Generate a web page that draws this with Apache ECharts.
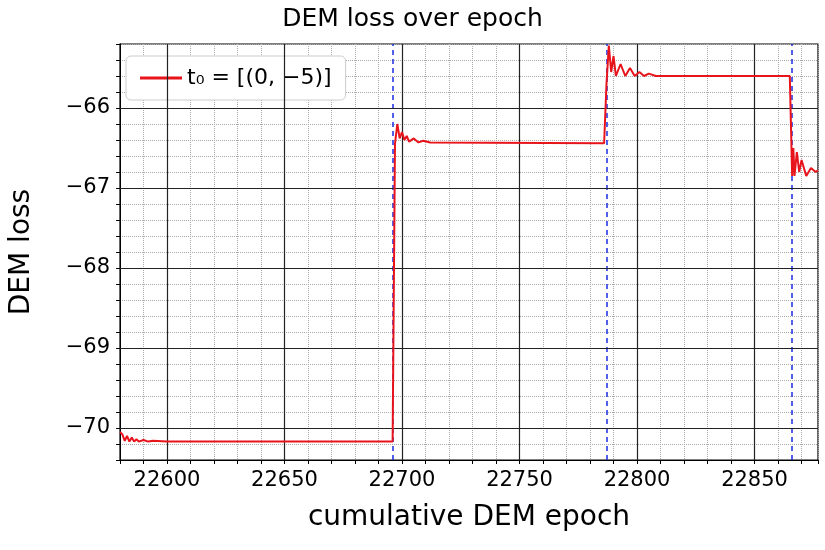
<!DOCTYPE html>
<html><head><meta charset="utf-8">
<script src="https://cdn.jsdelivr.net/npm/echarts@6/dist/echarts.min.js"></script>
<style>html,body{margin:0;background:#fff}#c{width:825px;height:550px}</style>
</head><body><div id="c"></div>
<script>
// loss curve
const epochs = [22580,22581,22582,22583,22584,22585,22586,22587,22588,22590,22592,22594,22600,22696,
  22697,22698,22699,22700,22701,22702,22703,22705,22707,22709,22712,22786,
  22787,22788,22789,22790,22791,22793,22795,22797,22799,22801,22803,22805,22808,22865,
  22866,22866.5,22867,22868,22869,22870,22872,22874,22876,22877]
const loss = [-70.05,-70.08,-70.16,-70.1,-70.17,-70.12,-70.17,-70.14,-70.17,-70.15,-70.17,-70.16,-70.17,-70.17,
  -66.45,-66.2,-66.38,-66.3,-66.4,-66.35,-66.42,-66.38,-66.43,-66.41,-66.43,-66.44,
  -65.7,-65.22,-65.55,-65.35,-65.6,-65.45,-65.6,-65.5,-65.6,-65.55,-65.6,-65.57,-65.6,-65.6,
  -66.85,-66.5,-66.85,-66.55,-66.8,-66.65,-66.85,-66.75,-66.8,-66.78]
const switchEpochs = [22696, 22787, 22866]
const xMajor = [22600, 22650, 22700, 22750, 22800, 22850]
const yMajor = [-70, -69, -68, -67, -66]

const font = 'DejaVu Sans'
const chart = echarts.init(document.getElementById('c'))
const solid = { symbol: 'none', label: { show: false }, lineStyle: { color: '#222', type: 'solid', width: 1.2 } }
chart.setOption({
  animation: false,
  title: { text: 'DEM loss over epoch', left: 'center', top: 2, textStyle: { fontFamily: font, fontSize: 25, fontWeight: 'normal', color: '#000' } },
  legend: {
    left: 126, top: 56, itemWidth: 42, itemHeight: 3, itemGap: 10, padding: [11, 14],
    icon: 'rect',
    backgroundColor: '#fff', borderColor: '#ccc', borderWidth: 1, borderRadius: 5,
    textStyle: { fontFamily: font, fontSize: 22, color: '#000' }
  },
  grid: { left: 113, right: 7, top: 44, bottom: 90, show: true, borderColor: '#000', borderWidth: 1.2 },
  xAxis: {
    type: 'value', min: 22580, max: 22877, interval: 10,
    name: 'cumulative DEM epoch', nameLocation: 'middle', nameGap: 44,
    nameTextStyle: { fontFamily: font, fontSize: 28, color: '#000' },
    axisLine: { lineStyle: { color: '#000' } },
    axisTick: { show: true, length: 4, lineStyle: { color: '#000' } },
    axisLabel: { fontFamily: font, fontSize: 21, color: '#000', margin: 10,
      formatter: v => (v % 50 === 0 ? String(v) : '') },
    splitLine: { show: true, lineStyle: { color: '#aaa', type: 'dotted' } }
  },
  yAxis: {
    type: 'value', min: -70.4, max: -65.2, interval: 0.2,
    name: 'DEM loss', nameLocation: 'middle', nameGap: 84,
    nameTextStyle: { fontFamily: font, fontSize: 28, color: '#000' },
    axisLine: { show: true, lineStyle: { color: '#000' } },
    axisTick: { show: true, length: 4, lineStyle: { color: '#000' } },
    axisLabel: { fontFamily: font, fontSize: 21, color: '#000', margin: 10,
      formatter: v => (Math.abs(v - Math.round(v)) < 1e-6 ? String(Math.round(v)).replace('-', '\u2212') : '') },
    splitLine: { show: true, lineStyle: { color: '#aaa', type: 'dotted' } }
  },
  series: [
    {
      name: 't\u2080 = [(0, \u22125)]', type: 'line', showSymbol: false, symbol: 'none', z: 5,
      data: epochs.map((e, i) => [e, loss[i]]),
      lineStyle: { color: '#e8141c', width: 2 }, itemStyle: { color: '#e8141c' },
      markLine: {
        silent: true, symbol: 'none', label: { show: false },
        lineStyle: { color: '#1a2be0', type: [5, 4], width: 1.5 },
        data: switchEpochs.map(x => ({ xAxis: x }))
      }
    },
    {
      type: 'line', data: [], z: 1,
      markLine: Object.assign({ silent: true, data: xMajor.map(x => ({ xAxis: x })).concat(yMajor.map(y => ({ yAxis: y }))) }, solid)
    }
  ]
})
</script></body></html>
